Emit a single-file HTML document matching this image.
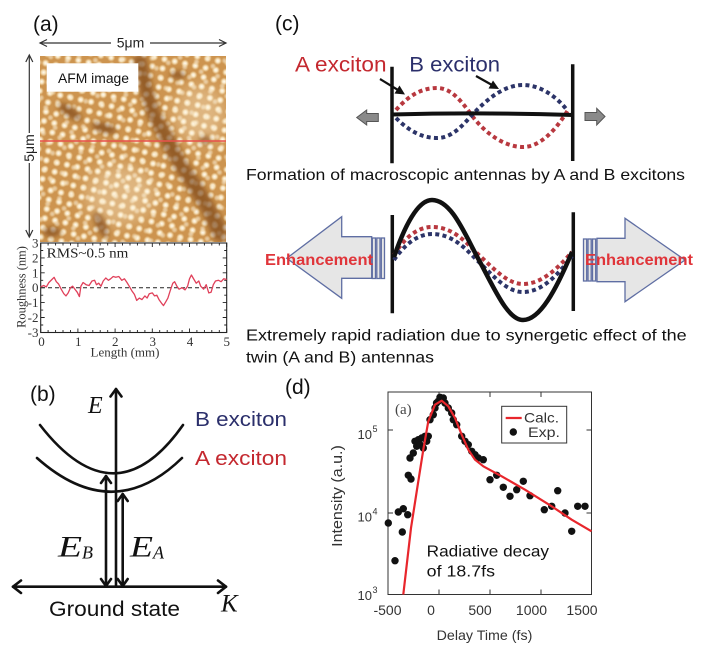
<!DOCTYPE html>
<html><head><meta charset="utf-8"><style>
html,body{margin:0;padding:0;background:#fff;}
svg{display:block;}
</style></head><body>
<svg width="720" height="663" viewBox="0 0 720 663" xmlns="http://www.w3.org/2000/svg">
<defs>
  <radialGradient id="rg">
    <stop offset="0" stop-color="#fffbf2"/>
    <stop offset="0.45" stop-color="#f6e2bc"/>
    <stop offset="1" stop-color="#eccb96" stop-opacity="0"/>
  </radialGradient>
  <pattern id="p1" width="10.5" height="9.5" patternUnits="userSpaceOnUse" patternTransform="rotate(12)">
    <circle cx="5.2" cy="4.7" r="4.2" fill="url(#rg)"/>
  </pattern>
  <pattern id="p2" width="13" height="11" patternUnits="userSpaceOnUse" patternTransform="rotate(-25) translate(3,2)">
    <circle cx="6" cy="5" r="3.6" fill="url(#rg)"/>
  </pattern>
  <filter id="bl" x="-20%" y="-20%" width="140%" height="140%"><feGaussianBlur stdDeviation="3"/></filter>
  <filter id="bl2" x="-20%" y="-20%" width="140%" height="140%"><feGaussianBlur stdDeviation="8"/></filter>
  <clipPath id="afm"><rect x="40" y="56" width="186" height="186"/></clipPath>
</defs>

<!-- ===== (a) ===== -->
<text x="33" y="31" font-family="Liberation Sans, sans-serif" font-size="21" fill="#111">(a)</text>
<g stroke="#333" stroke-width="1.2" fill="none">
  <line x1="40" y1="43" x2="111" y2="43"/>
  <polyline points="47,39.5 40,43 47,46.5"/>
  <line x1="150" y1="43" x2="226" y2="43"/>
  <polyline points="219,39.5 226,43 219,46.5"/>
  <line x1="29.3" y1="55" x2="29.3" y2="133"/>
  <polyline points="25.8,62 29.3,55 32.8,62"/>
  <line x1="29.3" y1="163" x2="29.3" y2="237"/>
  <polyline points="25.8,230 29.3,237 32.8,230"/>
</g>
<text x="130.5" y="47.5" text-anchor="middle" font-family="Liberation Sans, sans-serif" font-size="14" fill="#222">5μm</text>
<text transform="translate(34,148) rotate(-90)" text-anchor="middle" font-family="Liberation Sans, sans-serif" font-size="14" fill="#222">5μm</text>

<!-- AFM image -->
<g clip-path="url(#afm)">
  <rect x="40" y="56" width="186" height="186" fill="#cd944f"/>
  <rect x="40" y="56" width="186" height="186" fill="url(#p1)"/>
  <rect x="40" y="56" width="186" height="186" fill="url(#p2)" opacity="0.55"/>
  <g filter="url(#bl2)" fill="#fff4dc" opacity="0.35">
    <ellipse cx="120" cy="195" rx="35" ry="30"/>
    <ellipse cx="200" cy="115" rx="25" ry="30"/>
  </g>
  <g filter="url(#bl)" fill="#6e3810" opacity="0.6">
    <path d="M133,56 L146,56 L153,90 L160,112 L172,132 L186,160 L200,180 L214,204 L226,226 L226,242 L214,240 L202,212 L188,190 L174,168 L160,142 L148,118 L140,92 Z"/>
    <ellipse cx="70" cy="112" rx="14" ry="5" transform="rotate(35 70 112)"/>
    <ellipse cx="104" cy="128" rx="13" ry="5" transform="rotate(15 104 128)"/>
    <ellipse cx="101" cy="225" rx="5" ry="14" transform="rotate(-25 101 225)"/>
    <ellipse cx="52" cy="232" rx="9" ry="5"/>
    <ellipse cx="178" cy="75" rx="8" ry="4"/>
    <ellipse cx="205" cy="140" rx="6" ry="4"/>
  </g>
  <line x1="40" y1="141" x2="226" y2="141" stroke="#e8524c" stroke-width="1.6"/>
</g>
<rect x="46.7" y="63.3" width="91.6" height="28.4" fill="#fff"/>
<text x="58" y="83" font-family="Liberation Sans, sans-serif" font-size="14" fill="#111" textLength="71" lengthAdjust="spacingAndGlyphs">AFM image</text>

<!-- Roughness plot -->
<rect x="40.7" y="243" width="186" height="89.5" fill="#fff" stroke="#222" stroke-width="1.1"/>
<g stroke="#222" stroke-width="0.9">
  <path d="M40.7,332.5v-4 M77.9,332.5v-4 M115.1,332.5v-4 M152.3,332.5v-4 M189.5,332.5v-4 M226.7,332.5v-4
           M40.7,243v4 M77.9,243v4 M115.1,243v4 M152.3,243v4 M189.5,243v4 M226.7,243v4"/>
  <path d="M48.1,332.5v-2.5 M55.6,332.5v-2.5 M63,332.5v-2.5 M70.5,332.5v-2.5
           M85.3,332.5v-2.5 M92.8,332.5v-2.5 M100.2,332.5v-2.5 M107.7,332.5v-2.5
           M122.5,332.5v-2.5 M130,332.5v-2.5 M137.4,332.5v-2.5 M144.9,332.5v-2.5
           M159.7,332.5v-2.5 M167.2,332.5v-2.5 M174.6,332.5v-2.5 M182.1,332.5v-2.5
           M196.9,332.5v-2.5 M204.4,332.5v-2.5 M211.8,332.5v-2.5 M219.3,332.5v-2.5
           M48.1,243v2.5 M55.6,243v2.5 M63,243v2.5 M70.5,243v2.5
           M85.3,243v2.5 M92.8,243v2.5 M100.2,243v2.5 M107.7,243v2.5
           M122.5,243v2.5 M130,243v2.5 M137.4,243v2.5 M144.9,243v2.5
           M159.7,243v2.5 M167.2,243v2.5 M174.6,243v2.5 M182.1,243v2.5
           M196.9,243v2.5 M204.4,243v2.5 M211.8,243v2.5 M219.3,243v2.5"/>
  <path d="M40.7,257.9h4 M40.7,272.8h4 M40.7,287.7h4 M40.7,302.6h4 M40.7,317.5h4
           M40.7,250.5h2.5 M40.7,265.4h2.5 M40.7,280.3h2.5 M40.7,295.2h2.5 M40.7,310.1h2.5 M40.7,325h2.5
           M226.7,257.9h-4 M226.7,272.8h-4 M226.7,287.7h-4 M226.7,302.6h-4 M226.7,317.5h-4
           M226.7,250.5h-2.5 M226.7,265.4h-2.5 M226.7,280.3h-2.5 M226.7,295.2h-2.5 M226.7,310.1h-2.5 M226.7,325h-2.5"/>
</g>
<line x1="41" y1="287.7" x2="226" y2="287.7" stroke="#222" stroke-width="1" stroke-dasharray="4,3"/>
<polyline fill="none" stroke="#e0405a" stroke-width="1.3" stroke-linejoin="round" points="40.7,286.9 43.7,285.5 46.3,286.9 48.9,282.5 51.9,279.5 54.1,277.3 56.3,281.7 58.6,284 61.2,289.2 63.8,293.7 66,295.9 68.2,292.9 70.5,287.7 72.7,286.2 74.9,289.2 77.2,292.2 79.4,296.6 80.9,286.2 83.1,282.5 86.1,284.7 89.1,285.5 92,281 94.6,280.3 96.5,284.7 98.7,283.2 101,286.2 103.2,281 105.8,278 108.4,280.3 110.6,278.8 113.2,276.5 115.8,277.3 118.8,276.5 121.8,280.3 124.4,278.8 127,282.5 129.2,286.2 131.8,290.7 134.4,294.4 136.7,300.4 139.3,298.1 141.9,299.6 144.9,295.9 147.1,298.1 149.3,293.7 152.3,292.9 154.5,295.9 156.8,295.2 159,299.6 161.6,303.3 163.5,305.6 165.7,301.9 167.9,298.1 170.2,290.7 172.8,283.2 174.6,281.7 176.9,286.2 179.1,289.2 182.1,287.7 185,289.9 187.6,286.2 189.5,278.8 191.4,275 194,279.5 196.2,283.2 198.8,281 200.7,286.2 203.6,289.2 206.2,284.7 208.8,292.9 211.1,292.2 213.3,284.7 215.5,281 218.5,280.3 221.1,281.7 223.7,278.8 226.7,279.5"/>
<text x="46.7" y="257.7" font-family="Liberation Serif, serif" font-size="14" fill="#222" textLength="81.6" lengthAdjust="spacingAndGlyphs">RMS~0.5 nm</text>
<g font-family="Liberation Serif, serif" font-size="13" fill="#333" text-anchor="end">
  <text x="38.5" y="247.5">3</text>
  <text x="38.5" y="262.4">2</text>
  <text x="38.5" y="277.3">1</text>
  <text x="38.5" y="292.2">0</text>
  <text x="38.5" y="307.1">-1</text>
  <text x="38.5" y="322">-2</text>
  <text x="38.5" y="336.9">-3</text>
</g>
<g font-family="Liberation Serif, serif" font-size="13" fill="#333" text-anchor="middle">
  <text x="41.5" y="346">0</text>
  <text x="78.3" y="346">1</text>
  <text x="115.3" y="346">2</text>
  <text x="152.7" y="346">3</text>
  <text x="190" y="346">4</text>
  <text x="226.7" y="346">5</text>
</g>
<text x="125" y="356.5" text-anchor="middle" font-family="Liberation Serif, serif" font-size="13" fill="#333">Length (mm)</text>
<text transform="translate(25.5,287) rotate(-90)" text-anchor="middle" font-family="Liberation Serif, serif" font-size="12.5" fill="#333" textLength="81.7" lengthAdjust="spacingAndGlyphs">Roughness (nm)</text>

<!-- ===== (b) ===== -->
<text x="30" y="401" font-family="Liberation Sans, sans-serif" font-size="21" fill="#111">(b)</text>
<g fill="none" stroke="#111" stroke-width="2.6" stroke-linecap="round" stroke-linejoin="round">
  <path d="M40,425 Q115,521.6 183,425"/>
  <path d="M37,458 Q113,525.4 182,458"/>
  <line x1="116" y1="389" x2="116" y2="586.7"/>
  <polyline points="110.5,396.5 116,389 121.5,396.5"/>
  <line x1="13" y1="586.7" x2="226" y2="586.7"/>
  <polyline points="21,580.5 13,586.7 21,593"/>
  <polyline points="218,580.5 226,586.7 218,593"/>
  <line x1="106" y1="476" x2="106" y2="586"/>
  <polyline points="101,483 106,476 111,483"/>
  <polyline points="101,579 106,586 111,579"/>
  <line x1="122.7" y1="494" x2="122.7" y2="586"/>
  <polyline points="117.7,501 122.7,494 127.7,501"/>
  <polyline points="117.7,579 122.7,586 127.7,579"/>
</g>
<text x="88" y="413" font-family="Liberation Serif, serif" font-style="italic" font-size="24" fill="#111">E</text>
<text x="221" y="611.7" font-family="Liberation Serif, serif" font-style="italic" font-size="25" fill="#111">K</text>
<text x="58" y="556.5" font-family="Liberation Serif, serif" font-style="italic" font-size="30" fill="#111" textLength="24" lengthAdjust="spacingAndGlyphs">E</text>
<text x="82" y="558.5" font-family="Liberation Serif, serif" font-style="italic" font-size="18" fill="#111">B</text>
<text x="130" y="556.5" font-family="Liberation Serif, serif" font-style="italic" font-size="30" fill="#111" textLength="23" lengthAdjust="spacingAndGlyphs">E</text>
<text x="153" y="558.5" font-family="Liberation Serif, serif" font-style="italic" font-size="18" fill="#111">A</text>
<text x="49" y="616" font-family="Liberation Sans, sans-serif" font-size="21" fill="#111" textLength="131" lengthAdjust="spacingAndGlyphs">Ground state</text>
<text x="195" y="426" font-family="Liberation Sans, sans-serif" font-size="20" fill="#2b2f6b" textLength="92" lengthAdjust="spacingAndGlyphs">B exciton</text>
<text x="195" y="465" font-family="Liberation Sans, sans-serif" font-size="20" fill="#c4282f" textLength="92" lengthAdjust="spacingAndGlyphs">A exciton</text>

<!-- ===== (c) ===== -->
<text x="275" y="30.5" font-family="Liberation Sans, sans-serif" font-size="21" fill="#111">(c)</text>
<text x="295" y="71.7" font-family="Liberation Sans, sans-serif" font-size="21" fill="#c4282f" textLength="91.5" lengthAdjust="spacingAndGlyphs">A exciton</text>
<text x="409.3" y="71.7" font-family="Liberation Sans, sans-serif" font-size="21" fill="#2b2f6b" textLength="90.7" lengthAdjust="spacingAndGlyphs">B exciton</text>
<g stroke="#111" stroke-width="2.2" fill="#111">
  <line x1="380" y1="79" x2="398" y2="90"/>
  <polygon points="405,94.5 394.5,93.5 399.5,85.5" stroke="none"/>
  <line x1="476" y1="76" x2="492" y2="85"/>
  <polygon points="499,89 488.5,88.5 493,80.5" stroke="none"/>
</g>
<line x1="392" y1="66.7" x2="392" y2="163.3" stroke="#111" stroke-width="3.5"/>
<line x1="572.7" y1="64.3" x2="572.7" y2="161" stroke="#111" stroke-width="3.5"/>
<path d="M396,110 C410,94 423,88 437,88 C452,88 462,102 473,117 C486,134 505,147 523,147 C540,147 556,130 568,110" fill="none" stroke="#b8383f" stroke-width="4" stroke-dasharray="4,3.3"/>
<path d="M396,118 C410,132 423,138 437,138 C452,138 462,126 473,114 C488,98 505,85 523,85 C540,85 556,96 567,110" fill="none" stroke="#2c3468" stroke-width="4" stroke-dasharray="4,3.3"/>
<path d="M392,114.5 Q480,112 573,115" fill="none" stroke="#111" stroke-width="4"/>
<polygon points="356.7,117.5 366.7,110 366.7,113.5 378.3,113.5 378.3,121.5 366.7,121.5 366.7,125" fill="#8a8a8a" stroke="#555" stroke-width="1"/>
<polygon points="605,116.5 596.7,108.3 596.7,112.5 585,112.5 585,120.5 596.7,120.5 596.7,125" fill="#8a8a8a" stroke="#555" stroke-width="1"/>
<text x="246" y="180" font-family="Liberation Sans, sans-serif" font-size="16" fill="#111" textLength="439" lengthAdjust="spacingAndGlyphs">Formation of macroscopic antennas by A and B excitons</text>

<g fill="#e6e6e6" stroke="#5f6ea3" stroke-width="1.3">
  <polygon points="286.7,258.3 341.7,216.7 341.7,236.7 371.7,236.7 371.7,278.3 341.7,278.3 341.7,298.3"/>
  <rect x="372.3" y="238" width="3.2" height="40.5"/>
  <rect x="376.8" y="238" width="3.2" height="40.5"/>
  <rect x="381.3" y="238" width="3.2" height="40.5"/>
  <polygon points="685,260 625,218.3 625,238.3 597,238.3 597,281.7 625,281.7 625,301.7"/>
  <rect x="583.5" y="239" width="3.2" height="42"/>
  <rect x="588" y="239" width="3.2" height="42"/>
  <rect x="592.5" y="239" width="3.2" height="42"/>
</g>
<line x1="392.3" y1="215" x2="392.3" y2="313.3" stroke="#111" stroke-width="3.5"/>
<line x1="573.3" y1="212.3" x2="573.3" y2="311" stroke="#111" stroke-width="3.5"/>
<path d="M394,255 C405,237 418,227 432,227 C455,227 468,245 480,256 C495,270 508,284 523,284 C542,284 558,268 572,252" fill="none" stroke="#b8383f" stroke-width="4" stroke-dasharray="4,3.3"/>
<path d="M394,260 C405,244 418,234 432,234 C455,234 468,252 480,263 C495,278 508,292 523,292 C542,292 558,275 572,256" fill="none" stroke="#2c3468" stroke-width="4" stroke-dasharray="4,3.3"/>
<path d="M394,257 C405,225 418,200 432,200 C452,200 465,235 480,262 C495,290 508,320 523,320 C540,320 556,290 572,252" fill="none" stroke="#111" stroke-width="4.5"/>
<text x="265" y="265" font-family="Liberation Sans, sans-serif" font-weight="bold" font-size="16" fill="#e0353a" textLength="108" lengthAdjust="spacingAndGlyphs">Enhancement</text>
<text x="585" y="265" font-family="Liberation Sans, sans-serif" font-weight="bold" font-size="16" fill="#e0353a" textLength="108" lengthAdjust="spacingAndGlyphs">Enhancement</text>
<text x="246" y="340.7" font-family="Liberation Sans, sans-serif" font-size="16" fill="#111" textLength="440.7" lengthAdjust="spacingAndGlyphs">Extremely rapid radiation due to synergetic effect of the</text>
<text x="246" y="362.3" font-family="Liberation Sans, sans-serif" font-size="16" fill="#111" textLength="188" lengthAdjust="spacingAndGlyphs">twin (A and B) antennas</text>

<!-- ===== (d) ===== -->
<text x="285" y="394" font-family="Liberation Sans, sans-serif" font-size="21" fill="#111">(d)</text>
<rect x="388" y="392" width="203.5" height="202.5" fill="#fff" stroke="#333" stroke-width="1"/>
<g stroke="#333" stroke-width="1">
  <path d="M439,392v5 M490,392v5 M541,392v5 M439,594.5v-5 M490,594.5v-5 M541,594.5v-5
           M388,430h5 M388,513h5 M591.5,430h-5 M591.5,513h-5"/>
</g>
<g fill="#111">
  <circle cx="388.3" cy="523" r="3.7"/>
  <circle cx="395" cy="560.7" r="3.7"/>
  <circle cx="398.3" cy="512" r="3.7"/>
  <circle cx="403.3" cy="508.7" r="3.7"/>
  <circle cx="407.7" cy="514.7" r="3.7"/>
  <circle cx="402.3" cy="532" r="3.7"/>
  <circle cx="408.3" cy="475.3" r="3.7"/>
  <circle cx="411" cy="479" r="3.7"/>
  <circle cx="410" cy="458" r="3.7"/>
  <circle cx="413.3" cy="453" r="3.7"/>
  <circle cx="415" cy="441.3" r="3.7"/>
  <circle cx="418.3" cy="439.7" r="3.7"/>
  <circle cx="421.7" cy="438" r="3.7"/>
  <circle cx="425" cy="436.3" r="3.7"/>
  <circle cx="428.3" cy="436.3" r="3.7"/>
  <circle cx="416.7" cy="446.3" r="3.7"/>
  <circle cx="420" cy="444.7" r="3.7"/>
  <circle cx="423.3" cy="448" r="3.7"/>
  <circle cx="426.7" cy="441.3" r="3.7"/>
  <circle cx="430" cy="419.7" r="3.7"/>
  <circle cx="433.3" cy="414.7" r="3.7"/>
  <circle cx="435" cy="408" r="3.7"/>
  <circle cx="436.5" cy="403" r="3.7"/>
  <circle cx="438.3" cy="401.3" r="3.7"/>
  <circle cx="440" cy="397.3" r="3.7"/>
  <circle cx="443.3" cy="398" r="3.7"/>
  <circle cx="445" cy="403" r="3.7"/>
  <circle cx="448.3" cy="408" r="3.7"/>
  <circle cx="451.7" cy="413" r="3.7"/>
  <circle cx="453.3" cy="419.7" r="3.7"/>
  <circle cx="456.7" cy="424.7" r="3.7"/>
  <circle cx="461.7" cy="436.3" r="3.7"/>
  <circle cx="465" cy="441.3" r="3.7"/>
  <circle cx="468.3" cy="444.7" r="3.7"/>
  <circle cx="471.7" cy="451.3" r="3.7"/>
  <circle cx="475" cy="454.7" r="3.7"/>
  <circle cx="478.3" cy="458" r="3.7"/>
  <circle cx="483.3" cy="459.7" r="3.7"/>
  <circle cx="490" cy="479.7" r="3.7"/>
  <circle cx="496.7" cy="475.3" r="3.7"/>
  <circle cx="503.3" cy="487.3" r="3.7"/>
  <circle cx="510" cy="496.3" r="3.7"/>
  <circle cx="516.7" cy="489.7" r="3.7"/>
  <circle cx="523.3" cy="481.3" r="3.7"/>
  <circle cx="530" cy="495.7" r="3.7"/>
  <circle cx="544.3" cy="509.7" r="3.7"/>
  <circle cx="551.7" cy="506.3" r="3.7"/>
  <circle cx="557.7" cy="490.7" r="3.7"/>
  <circle cx="565" cy="513" r="3.7"/>
  <circle cx="571.7" cy="531.3" r="3.7"/>
  <circle cx="577.7" cy="506.3" r="3.7"/>
  <circle cx="585" cy="506.3" r="3.7"/>
</g>
<polyline fill="none" stroke="#e8262c" stroke-width="2.2" stroke-linejoin="round" points="403.3,594.5 411,528 418.3,481.3 423.3,449.7 428.3,421.3 435,404.7 441.7,400.7 448.3,406.3 455,418 461.7,434.7 468.3,449.7 475,459.7 483.3,466.3 501.7,476.3 525,489.7 551.7,506.3 571.7,519.7 591.5,531.3"/>
<text x="395" y="414" font-family="Liberation Serif, serif" font-size="15" fill="#444">(a)</text>
<rect x="501.7" y="406.3" width="65" height="36.7" fill="#fff" stroke="#333" stroke-width="1"/>
<line x1="505.7" y1="418" x2="521.7" y2="418" stroke="#e8262c" stroke-width="2.2"/>
<text x="524" y="422.5" font-family="Liberation Sans, sans-serif" font-size="14" fill="#333" textLength="35" lengthAdjust="spacingAndGlyphs">Calc.</text>
<circle cx="513.3" cy="432" r="3.7" fill="#111"/>
<text x="528" y="437" font-family="Liberation Sans, sans-serif" font-size="14" fill="#333" textLength="32" lengthAdjust="spacingAndGlyphs">Exp.</text>
<text x="426.7" y="556.3" font-family="Liberation Sans, sans-serif" font-size="16" fill="#111" textLength="122.3" lengthAdjust="spacingAndGlyphs">Radiative decay</text>
<text x="426.7" y="576.3" font-family="Liberation Sans, sans-serif" font-size="16" fill="#111" textLength="68.3" lengthAdjust="spacingAndGlyphs">of 18.7fs</text>
<g font-family="Liberation Sans, sans-serif" fill="#333">
  <text x="372" y="439" font-size="13" text-anchor="end">10</text>
  <text x="372.5" y="432" font-size="9">5</text>
  <text x="372" y="521.7" font-size="13" text-anchor="end">10</text>
  <text x="372.5" y="514.5" font-size="9">4</text>
  <text x="372" y="600" font-size="13" text-anchor="end">10</text>
  <text x="372.5" y="593" font-size="9">3</text>
</g>
<g font-family="Liberation Sans, sans-serif" font-size="14" fill="#333" text-anchor="middle">
  <text x="387.5" y="615">-500</text>
  <text x="431" y="615">0</text>
  <text x="480" y="615">500</text>
  <text x="531.5" y="615">1000</text>
  <text x="582" y="615">1500</text>
</g>
<text x="484.5" y="640" text-anchor="middle" font-family="Liberation Sans, sans-serif" font-size="14" fill="#333" textLength="95.7" lengthAdjust="spacingAndGlyphs">Delay Time (fs)</text>
<text transform="translate(342,496) rotate(-90)" text-anchor="middle" font-family="Liberation Sans, sans-serif" font-size="15" fill="#333" textLength="101.7" lengthAdjust="spacingAndGlyphs">Intensity (a.u.)</text>
</svg>
</body></html>
